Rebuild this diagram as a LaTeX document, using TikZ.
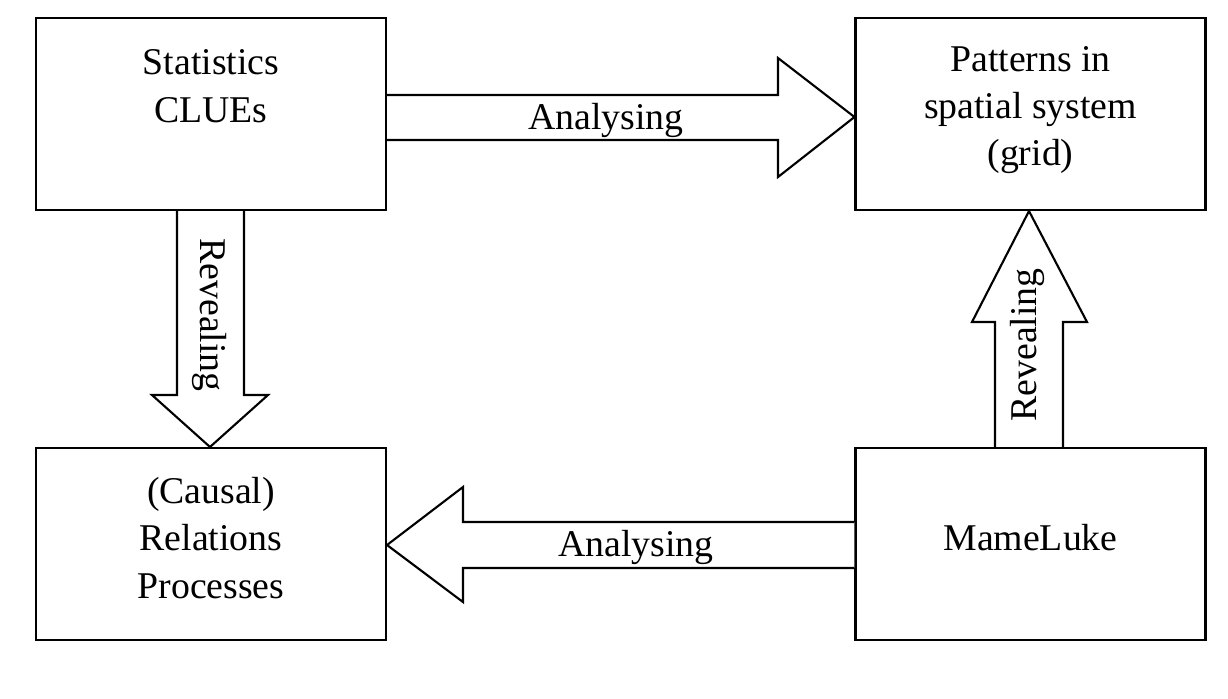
\documentclass[tikz,border=0pt]{standalone}
\usepackage{fontspec}
\setmainfont{Liberation Serif}
\usetikzlibrary{positioning}

\tikzset{
    box/.style={draw,line width=1.2pt,minimum width=7cm,minimum height=3.84cm},
    txt/.style={align=center,font=\fontsize{21.5}{27}\selectfont},
    fat/.style={draw,line width=1.2pt,fill=white}
}

\begin{document}
\begin{tikzpicture}[x=0.02cm,y=-0.02cm]
    \useasboundingbox (0,0) rectangle (1228,698);

    % the four boxes
    \node[box] (stats) at (211,114) {};
    \node[box] (pattern) at (1030.5,114) {};
    \node[box] (causal) at (211,544) {};
    \node[box] (mame) at (1030.5,544) {};

    \node[txt] at (211,86) {Statistics\\CLUEs};
    \node[txt] at (1030.5,110) {Patterns in\\spatial system\\(grid)};
    \node[txt] at (211,538) {(Causal)\\Relations\\Processes};
    \node[txt] at (1030.5,538) {MameLuke};

    % top arrow
    \draw[fat] (stats.east |- 0,95) -- (778,95) -- (778,58) -- (pattern.west |- 0,117)
        -- (778,177) -- (778,140) -- (stats.east |- 0,140);
    \node[txt] at (606,120) {Analysing};

    % bottom arrow
    \draw[fat] (mame.west |- 0,522) -- (463,522) -- (463,487) -- (causal.east |- 0,545)
        -- (463,602) -- (463,568) -- (mame.west |- 0,568);
    \node[txt] at (636,547) {Analysing};

    % left arrow
    \draw[fat] (177,0 |- stats.south) -- (177,395) -- (152,395) -- (210,0 |- causal.north)
        -- (268,395) -- (244,395) -- (244,0 |- stats.south);
    \node[txt,rotate=-90] at (210,315) {Revealing};

    % right arrow
    \draw[fat] (995,0 |- mame.north) -- (995,322) -- (972,322) -- (1029,0 |- pattern.south)
        -- (1087,322) -- (1063,322) -- (1063,0 |- mame.north);
    \node[txt,rotate=90] at (1027,345) {Revealing};
\end{tikzpicture}
\end{document}
